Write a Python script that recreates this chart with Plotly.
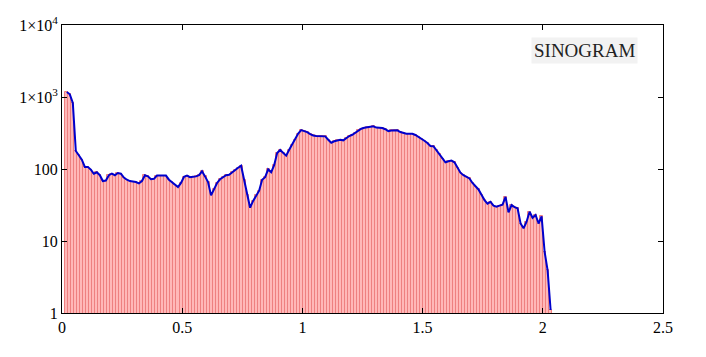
import plotly.graph_objects as go

x_start = 0.02
x_step = 0.0125
counts = [
    1173, 1090, 830, 178, 155, 135, 107, 107, 98, 86,
    90, 82, 68, 69, 82, 86, 82, 88, 86, 76,
    71, 68, 67, 66, 63, 68, 82, 79, 72, 73,
    81, 81, 81, 81, 71, 66, 60, 56, 64, 78,
    81, 77, 78, 79, 82, 93, 79, 66, 43, 53,
    64, 72, 77, 82, 83, 90, 98, 104, 111, 71,
    44, 29, 36, 43, 50, 71, 77, 99, 90, 113,
    167, 184, 169, 153, 185, 218, 252, 310, 347, 336,
    325, 305, 292, 288, 285, 284, 284, 255, 232, 243,
    251, 255, 250, 272, 287, 299, 321, 347, 362, 373,
    379, 385, 391, 376, 371, 371, 357, 336, 343, 344,
    344, 326, 314, 309, 309, 309, 297, 281, 259, 247,
    230, 209, 207, 182, 161, 137, 124, 128, 131, 124,
    103, 89, 82, 78, 74, 64, 57, 52, 44, 37,
    33, 35, 31, 30, 31, 32, 41, 25, 31.5, 29.5,
    28.5, 17.5, 15, 18.5, 25.5, 21, 23, 17.5, 22, 7.1,
    3.9, 1.1,
]
xs = [x_start + x_step * i for i in range(len(counts))]

y_tickvals = [1, 10, 100, 1000, 10000]
y_ticktext = ["1", "10", "100", "1×10<sup>3</sup>", "1×10<sup>4</sup>"]
x_tickvals = [0, 0.5, 1, 1.5, 2, 2.5]
x_ticktext = ["0", "0.5", "1", "1.5", "2", "2.5"]

fig = go.Figure()
fig.add_trace(go.Bar(
    x=xs, y=counts, width=x_step,
    marker=dict(color="#FFB8B8", line=dict(color="#EE8080", width=1)),
    showlegend=False,
))
fig.add_trace(go.Scatter(
    x=xs, y=counts, mode="lines",
    line=dict(color="#0000CC", width=2),
    showlegend=False,
))

font = dict(family="Liberation Serif", size=16, color="black")
fig.update_layout(
    width=698, height=349,
    margin=dict(l=54, r=43, t=17, b=44),
    plot_bgcolor="white", paper_bgcolor="white",
    bargap=0,
    font=font,
    xaxis=dict(range=[0, 2.5], tickvals=x_tickvals, ticktext=x_ticktext,
               showgrid=False, zeroline=False, showline=True, linecolor="black",
               linewidth=1, mirror="ticks", ticks="inside", ticklen=5,
               tickcolor="black", tickfont=font, automargin=False),
    yaxis=dict(type="log", range=[0, 4], tickvals=y_tickvals, ticktext=y_ticktext,
               showgrid=False, zeroline=False, showline=True, linecolor="black",
               linewidth=1, mirror="ticks", ticks="inside", ticklen=5,
               tickcolor="black", tickfont=font, automargin=False),
    annotations=[dict(
        x=0.87, y=0.913, xref="paper", yref="paper",
        xanchor="center", yanchor="middle",
        text="SINOGRAM", showarrow=False,
        font=dict(family="Liberation Serif", size=19, color="#222222"),
        bgcolor="#F2F2F2", borderpad=2,
    )],
)

fig.write_html("out.html")
